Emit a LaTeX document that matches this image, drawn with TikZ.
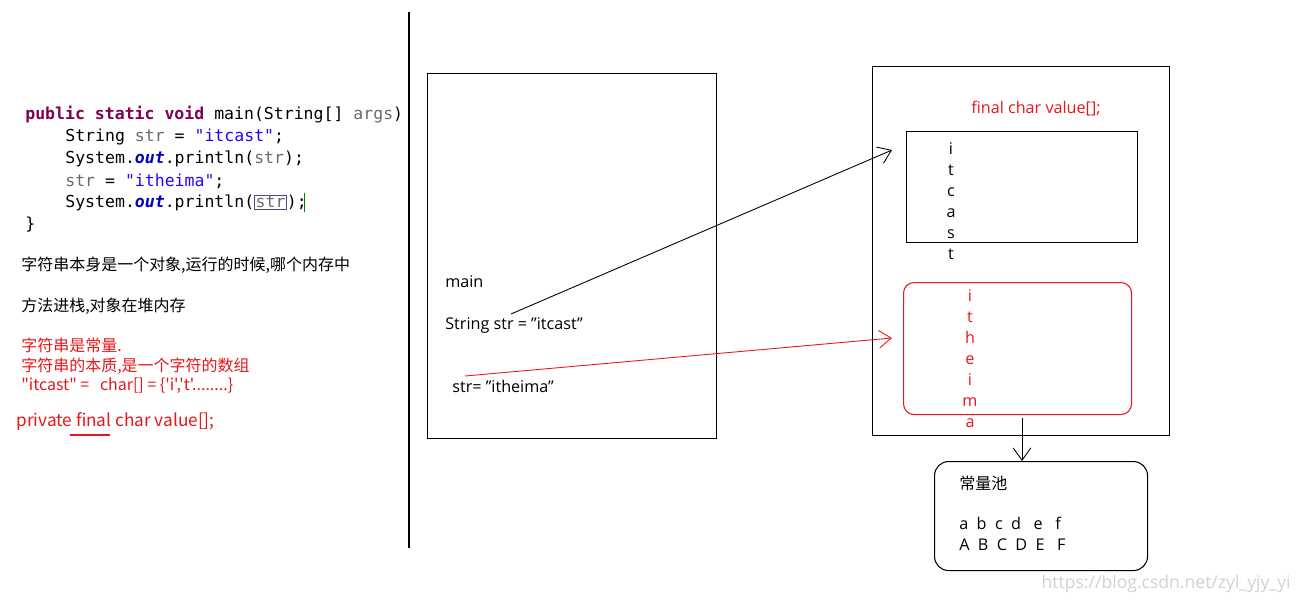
\documentclass[tikz,border=0pt]{standalone}
\usepackage{fontspec}
\setmainfont{Open Sans}
\setmonofont{DejaVu Sans Mono}
\newfontfamily\cjk{Noto Sans CJK SC}
\usetikzlibrary{arrows.meta}
\newcommand{\dq}{{\char34}}
\definecolor{kw}{HTML}{7F0055}
\definecolor{strc}{HTML}{2A00FF}
\definecolor{fld}{HTML}{0000C0}
\definecolor{var}{HTML}{6A6A6A}
\definecolor{rd}{HTML}{E8161A}
\begin{document}
\begin{tikzpicture}[x=0.02cm,y=-0.02cm,
  code/.style={anchor=west,inner sep=0,font=\ttfamily\fontsize{9.4}{10}\selectfont},
  txt/.style={anchor=west,inner sep=0,font=\cjk\fontsize{9.1}{10}\selectfont},
  lt/.style={anchor=base west,inner sep=0,font=\fontsize{9.2}{10}\selectfont},
  box/.style={draw,line width=0.6pt},
  arr/.style={-{Straight Barb[length=7pt,width=10pt]},line width=0.5pt}]
\useasboundingbox (0,0) rectangle (1299,603);
% code
\node[code] (c1) at (25,115) {\textbf{\color{kw}public static void} main(String[] {\color{var}args})};
\node[code] (c2) at (65,137) {String {\color{var}str} = {\color{strc}"itcast"};};
\node[code] (c3) at (65,159) {System.{\color{fld}\textbf{\textit{out}}}.println({\color{var}str});};
\node[code] (c4) at (65,181) {{\color{var}str} = {\color{strc}"itheima"};};
\node[code] (c5) at (65,203) {System.{\color{fld}\textbf{\textit{out}}}.println(\tikz[baseline=(s.base)]\node[draw=var!70!blue,inner sep=0.6pt](s){\color{var}str};);};
\node[code] (c6) at (25,225) {\}};
\draw[green!50!black,line width=0.5pt] (304,193) -- (304,212);
% notes
\node[txt] (t1) at (21,265) {字符串本身是一个对象,运行的时候,哪个内存中};
\node[txt] (t2) at (21,306) {方法进栈,对象在堆内存};
\node[txt,text=rd] (t3) at (21,345) {字符串是常量.};
\node[txt,text=rd] (t4) at (21,366) {字符串的本质,是一个字符的数组};
\node[txt,text=rd] (t5) at (21,386) {\dq itcast\dq\ =\ \ \ char[] = \{'i','t'........\}};
\node[txt,text=rd,font=\cjk\fontsize{9.8}{10}\selectfont] (t6) at (16,421) {private final char value[];};
\draw[rd,line width=0.6pt] (70,435) -- (110,435);
% divider
\draw[line width=0.6pt] (409,12) -- (409,548);
% stack
\node[box,minimum width=289*0.02cm,minimum height=365*0.02cm,anchor=north west] (stack) at (427,73) {};
\node[lt] (m) at (445,287) {main};
\node[lt] (s1) at (445,329) {String str = \dq itcast\dq};
\node[lt] (s2) at (452,392) {str= \dq itheima\dq};
% heap
\node[box,minimum width=297*0.02cm,minimum height=369*0.02cm,anchor=north west] (heap) at (872,66) {};
\node[lt,text=rd,anchor=base] (fv) at (1036,113) {final char value[];};
\node[box,minimum width=231*0.02cm,minimum height=111*0.02cm,anchor=north west] (arr1) at (906,131) {};
\node[box,draw=rd,rounded corners=6pt,minimum width=228*0.02cm,minimum height=132*0.02cm,anchor=north west] (arr2) at (903,282) {};
\foreach \c [count=\i from 0] in {i,t,c,a,s,t}
  \node[lt,anchor=base] (a\i) at (951,154+21*\i) {\c};
\foreach \c [count=\i from 0] in {i,t,h,e,i,m,a}
  \node[lt,anchor=base,text=rd] (b\i) at (970,301+21*\i) {\c};
% pool
\node[box,rounded corners=8pt,minimum width=213*0.02cm,minimum height=109*0.02cm,anchor=north west] (pool) at (934,461) {};
\node[txt] (p0) at (959,483) {常量池};
\node[lt] (p1) at (959,529) {a\ \ b\ \ c\ \ d\ \ \ e\ \ \ f};
\node[lt] (p2) at (959,550) {A\ \ B\ \ C\ \ D\ \ E\ \ \ F};
% arrows
\coordinate (e1) at (892,150);
\coordinate (e2) at (892,338);
\coordinate (src1) at (511,314);
\coordinate (src2) at (465,376);
\coordinate (d0) at (1022,418);
\draw[arr] (src1) -- (e1);
\draw[arr,rd] (src2) -- (e2);
\draw[arr] (d0) -- (pool.north -| d0);
% watermark
\node[anchor=east,inner sep=0,text=black!18,font=\fontsize{10}{10}\selectfont] (wm) at (1291,584) {https://blog.csdn.net/zyl\_yjy\_yi};
\end{tikzpicture}
\end{document}
